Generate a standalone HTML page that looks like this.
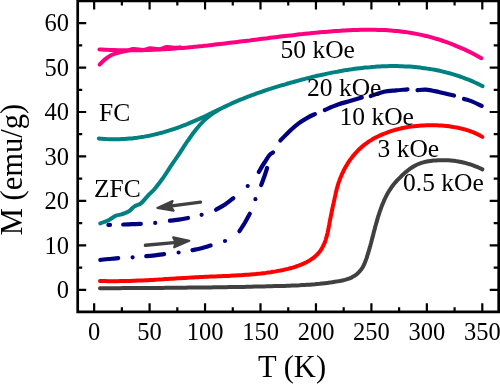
<!DOCTYPE html>
<html><head><meta charset="utf-8"><style>html,body{margin:0;padding:0;background:#fff;overflow:hidden}svg{display:block}</style></head>
<body><svg width="500" height="384" viewBox="0 0 500 384">
<rect width="500" height="384" fill="#fff"/>
<g fill="none" stroke-linecap="round" stroke-linejoin="round">
<path d="M100.3,259.8 C101.8,259.7 106.0,259.3 109.0,259.0 C112.0,258.7 116.7,258.2 118.2,258.1 M132.6,257.3 h0.01 M146.2,256.2 C147.7,256.1 152.0,255.7 155.0,255.3 C158.0,255.0 162.6,254.3 164.1,254.1 M178.6,252.5 h0.01 M192.5,250.1 C194.0,249.8 198.5,249.0 201.5,248.2 C204.5,247.4 209.1,245.9 210.6,245.5 M225.0,241.0 h0.01 M239.4,231.2 C240.3,229.8 243.3,225.4 245.0,222.5 C246.7,219.6 249.0,215.2 249.8,213.8 M255.4,199.2 h0.01 M261.2,185.0 C261.8,183.5 263.5,178.8 264.5,176.0 C265.5,173.2 266.7,169.2 267.1,167.9 M108.4,224.9 C108.7,224.9 109.7,224.9 110.0,224.9 M123.2,224.5 C124.7,224.4 129.1,224.3 132.0,224.2 C134.9,224.1 139.3,223.9 140.8,223.9 M155.2,222.9 h0.01 M169.9,220.7 C171.4,220.5 176.0,220.0 179.0,219.6 C182.0,219.2 186.5,218.3 188.0,218.0 M201.6,214.8 h0.01 M216.0,209.7 C217.5,208.8 222.1,206.4 225.0,204.5 C227.9,202.6 231.9,199.3 233.3,198.3 M247.7,186.0 h0.01 M258.8,172.0 C259.7,170.4 262.7,165.3 264.5,162.5 C266.3,159.7 268.1,156.7 269.5,155.0 C270.9,153.3 272.4,152.9 273.0,152.5 M280.4,140.4 C281.9,138.9 286.5,134.1 289.5,131.2 C292.5,128.4 295.6,125.7 298.6,123.4 C301.7,121.1 305.1,119.1 307.8,117.6 C310.5,116.0 313.7,114.7 314.9,114.1 M324.8,110.0 C327.0,109.1 333.8,106.1 338.0,104.6 C342.2,103.1 346.0,102.2 350.0,101.0 C354.0,99.8 359.8,98.0 361.8,97.4 M370.8,96.0 C373.0,95.3 379.8,92.7 384.0,91.8 C388.2,90.9 392.1,90.8 396.0,90.4 C399.9,90.0 405.6,89.6 407.5,89.4 M417.5,90.2 C418.9,90.1 422.4,89.3 426.0,89.6 C429.6,89.9 434.1,91.0 438.8,92.0 C443.5,93.0 451.5,94.9 454.0,95.5 M464.0,98.9 C465.4,99.4 469.4,100.4 472.4,101.6 C475.3,102.8 480.1,105.2 481.7,105.9" stroke="#000080" stroke-width="4.2"/>
<path d="M100.0,288.3 L102.5,288.3 L105.1,288.3 L107.6,288.2 L110.1,288.2 L112.6,288.2 L115.2,288.2 L117.7,288.2 L120.2,288.2 L122.7,288.1 L125.3,288.1 L127.8,288.1 L130.3,288.1 L132.8,288.1 L135.4,288.1 L137.9,288.0 L140.4,288.0 L142.9,288.0 L145.5,288.0 L148.0,288.0 L150.5,288.0 L153.1,287.9 L155.6,287.9 L158.1,287.9 L160.6,287.9 L163.2,287.9 L165.7,287.8 L168.2,287.8 L170.7,287.8 L173.3,287.8 L175.8,287.8 L178.3,287.7 L180.9,287.7 L183.4,287.7 L185.9,287.7 L188.4,287.6 L191.0,287.6 L193.5,287.6 L196.0,287.6 L198.6,287.5 L201.1,287.5 L203.6,287.5 L206.1,287.4 L208.7,287.4 L211.2,287.4 L213.7,287.3 L216.2,287.3 L218.8,287.3 L221.3,287.2 L223.8,287.2 L226.4,287.2 L228.9,287.1 L231.4,287.1 L233.9,287.0 L236.5,287.0 L239.0,286.9 L241.5,286.9 L244.0,286.9 L246.6,286.8 L249.1,286.7 L251.6,286.7 L254.1,286.6 L256.7,286.6 L259.2,286.5 L261.7,286.5 L264.3,286.4 L266.8,286.3 L269.3,286.3 L271.8,286.2 L274.4,286.1 L276.9,286.1 L279.4,286.0 L281.9,285.9 L284.5,285.9 L287.0,285.8 L289.5,285.7 L292.0,285.6 L294.5,285.5 L297.1,285.4 L299.6,285.3 L302.1,285.1 L304.6,285.0 L307.2,284.8 L309.7,284.7 L312.2,284.5 L314.7,284.3 L317.2,284.0 L319.7,283.8 L322.2,283.5 L324.8,283.2 L327.3,282.9 L329.8,282.6 L332.3,282.2 L334.8,281.8 L337.3,281.4 L339.8,281.0 L342.3,280.5 L344.8,279.9 L347.2,279.2 L349.6,278.3 L351.9,277.3 L354.1,276.1 L356.2,274.7 L358.1,273.0 L359.8,271.2 L361.4,269.3 L362.7,267.2 L363.9,264.9 L364.9,262.6 L365.8,260.3 L366.7,257.9 L367.4,255.4 L368.2,253.0 L368.9,250.6 L369.6,248.1 L370.3,245.7 L371.0,243.3 L371.6,240.8 L372.2,238.4 L372.9,235.9 L373.5,233.5 L374.1,231.1 L374.8,228.6 L375.4,226.2 L376.1,223.8 L376.8,221.4 L377.5,218.9 L378.2,216.5 L379.0,214.1 L379.8,211.7 L380.6,209.3 L381.5,206.9 L382.4,204.5 L383.4,202.2 L384.4,199.8 L385.5,197.5 L386.6,195.3 L387.8,193.1 L389.1,190.9 L390.5,188.8 L391.9,186.7 L393.4,184.7 L395.0,182.8 L396.7,180.9 L398.4,179.1 L400.2,177.3 L402.0,175.5 L403.9,173.8 L405.8,172.1 L407.8,170.5 L409.8,168.9 L411.9,167.5 L414.0,166.2 L416.2,165.0 L418.5,164.0 L420.8,163.1 L423.2,162.4 L425.7,161.8 L428.1,161.3 L430.7,160.9 L433.2,160.6 L435.7,160.4 L438.3,160.2 L440.8,160.2 L443.4,160.2 L445.9,160.2 L448.4,160.3 L451.0,160.5 L453.5,160.8 L456.0,161.1 L458.5,161.5 L461.0,162.0 L463.4,162.5 L465.9,163.1 L468.3,163.8 L470.7,164.5 L473.1,165.4 L475.4,166.3 L477.8,167.2 L480.1,168.3 L482.4,169.4" stroke="#404040" stroke-width="4"/>
<path d="M100.0,281.0 L102.5,281.1 L105.1,281.1 L107.6,281.2 L110.1,281.2 L112.6,281.2 L115.1,281.2 L117.7,281.2 L120.2,281.1 L122.7,281.1 L125.2,281.1 L127.7,281.0 L130.2,280.9 L132.7,280.8 L135.2,280.7 L137.7,280.6 L140.2,280.5 L142.8,280.4 L145.3,280.3 L147.8,280.2 L150.3,280.0 L152.8,279.9 L155.3,279.7 L157.8,279.6 L160.3,279.4 L162.8,279.3 L165.3,279.1 L167.8,279.0 L170.3,278.8 L172.8,278.7 L175.3,278.5 L177.8,278.3 L180.3,278.2 L182.8,278.0 L185.3,277.9 L187.9,277.7 L190.4,277.6 L192.9,277.4 L195.4,277.3 L197.9,277.2 L200.4,277.0 L202.9,276.9 L205.4,276.8 L208.0,276.7 L210.5,276.6 L213.0,276.5 L215.5,276.4 L218.0,276.3 L220.6,276.2 L223.1,276.1 L225.6,276.0 L228.1,275.9 L230.6,275.7 L233.1,275.6 L235.7,275.5 L238.2,275.3 L240.7,275.2 L243.2,275.0 L245.7,274.8 L248.2,274.7 L250.7,274.4 L253.2,274.2 L255.7,274.0 L258.2,273.7 L260.7,273.5 L263.2,273.2 L265.7,272.9 L268.2,272.5 L270.6,272.2 L273.1,271.8 L275.6,271.4 L278.1,270.9 L280.5,270.5 L283.0,270.0 L285.4,269.4 L287.9,268.9 L290.3,268.2 L292.7,267.6 L295.1,266.8 L297.5,266.0 L299.9,265.1 L302.3,264.2 L304.6,263.1 L306.9,262.0 L309.1,260.8 L311.2,259.4 L313.3,258.0 L315.2,256.4 L317.0,254.7 L318.7,252.8 L320.2,250.9 L321.6,248.8 L322.8,246.7 L323.9,244.4 L324.9,242.1 L325.7,239.8 L326.4,237.4 L327.1,234.9 L327.7,232.5 L328.2,230.0 L328.7,227.4 L329.2,224.9 L329.6,222.4 L330.1,219.9 L330.6,217.4 L331.1,214.9 L331.6,212.5 L332.1,210.0 L332.6,207.6 L333.1,205.2 L333.7,202.7 L334.2,200.3 L334.7,197.9 L335.3,195.4 L335.8,193.0 L336.4,190.6 L337.0,188.1 L337.7,185.7 L338.4,183.3 L339.3,180.9 L340.1,178.6 L341.1,176.2 L342.1,173.9 L343.2,171.6 L344.3,169.3 L345.5,167.1 L346.8,164.9 L348.1,162.8 L349.5,160.7 L351.0,158.6 L352.5,156.6 L354.1,154.7 L355.8,152.8 L357.5,151.0 L359.3,149.2 L361.1,147.5 L363.0,145.9 L364.9,144.3 L367.0,142.9 L369.0,141.4 L371.2,140.1 L373.3,138.8 L375.5,137.6 L377.8,136.5 L380.1,135.4 L382.4,134.4 L384.7,133.5 L387.1,132.6 L389.5,131.7 L391.9,130.9 L394.3,130.2 L396.7,129.5 L399.2,128.9 L401.6,128.3 L404.1,127.8 L406.5,127.3 L409.0,126.9 L411.5,126.5 L414.0,126.2 L416.4,125.9 L418.9,125.7 L421.4,125.5 L423.9,125.4 L426.5,125.3 L429.0,125.2 L431.5,125.2 L434.0,125.2 L436.5,125.3 L439.0,125.4 L441.5,125.6 L444.1,125.8 L446.6,126.0 L449.1,126.3 L451.6,126.7 L454.1,127.1 L456.5,127.5 L459.0,128.0 L461.5,128.6 L463.9,129.2 L466.3,129.9 L468.7,130.7 L471.1,131.5 L473.4,132.4 L475.7,133.4 L478.0,134.5 L480.2,135.6 L482.4,136.9" stroke="#ff0000" stroke-width="4"/>
<path d="M100.2,223.4 C100.8,223.2 102.5,222.6 104.0,222.0 C105.5,221.4 107.0,221.0 109.0,219.9 C111.0,218.8 113.9,216.6 116.0,215.7 C118.1,214.8 119.5,215.0 121.6,214.3 C123.7,213.6 126.5,212.8 128.6,211.5 C130.7,210.2 132.1,208.0 134.2,206.6 C136.3,205.2 138.9,205.0 141.2,203.1 C143.5,201.2 146.0,197.7 148.2,195.4 C150.4,193.1 151.8,192.3 154.2,189.5 C156.6,186.7 159.7,182.6 162.5,178.8 C165.3,174.9 168.0,170.4 170.8,166.2 C173.6,162.1 176.4,157.9 179.2,153.8 C182.0,149.6 184.7,145.2 187.5,141.2 C190.3,137.3 193.0,133.3 195.8,129.8 C198.6,126.3 201.4,123.1 204.2,120.4 C207.0,117.7 210.2,115.3 212.5,113.6 C214.8,111.9 217.1,110.8 218.0,110.3" stroke="#008080" stroke-width="4"/>
<path d="M98.8,138.5 L101.4,138.7 L104.0,138.9 L106.6,139.1 L109.1,139.2 L111.7,139.2 L114.3,139.3 L116.8,139.3 L119.3,139.2 L121.9,139.1 L124.4,139.0 L126.9,138.8 L129.4,138.6 L132.0,138.4 L134.5,138.1 L137.0,137.8 L139.4,137.4 L141.9,137.0 L144.4,136.6 L146.9,136.1 L149.3,135.7 L151.8,135.1 L154.2,134.6 L156.7,134.0 L159.1,133.4 L161.5,132.8 L163.9,132.1 L166.3,131.4 L168.7,130.7 L171.1,129.9 L173.5,129.1 L175.9,128.3 L178.3,127.5 L180.6,126.6 L183.0,125.7 L185.3,124.8 L187.7,123.9 L190.0,122.9 L192.3,121.9 L194.7,120.9 L197.0,119.9 L199.3,118.9 L201.6,117.8 L203.9,116.8 L206.1,115.7 L208.4,114.6 L210.7,113.5 L213.0,112.4 L215.3,111.3 L217.5,110.2 L219.8,109.1 L222.1,108.0 L224.4,106.9 L226.6,105.9 L228.9,104.8 L231.2,103.7 L233.5,102.7 L235.8,101.7 L238.1,100.7 L240.4,99.7 L242.7,98.8 L245.0,97.9 L247.4,96.9 L249.7,96.0 L252.0,95.2 L254.4,94.3 L256.7,93.4 L259.1,92.6 L261.4,91.8 L263.8,91.0 L266.2,90.2 L268.5,89.4 L270.9,88.7 L273.3,87.9 L275.7,87.1 L278.1,86.4 L280.5,85.7 L282.9,85.0 L285.3,84.3 L287.8,83.5 L290.2,82.8 L292.6,82.2 L295.1,81.5 L297.5,80.8 L300.0,80.1 L302.4,79.5 L304.9,78.9 L307.3,78.2 L309.8,77.6 L312.3,77.0 L314.7,76.4 L317.2,75.8 L319.7,75.3 L322.2,74.7 L324.7,74.2 L327.2,73.6 L329.7,73.1 L332.2,72.6 L334.7,72.1 L337.2,71.7 L339.7,71.2 L342.2,70.8 L344.7,70.3 L347.2,69.9 L349.7,69.6 L352.2,69.2 L354.7,68.8 L357.2,68.5 L359.8,68.2 L362.3,67.9 L364.8,67.6 L367.3,67.4 L369.8,67.2 L372.3,66.9 L374.8,66.8 L377.4,66.6 L379.9,66.5 L382.4,66.3 L384.9,66.2 L387.4,66.2 L389.9,66.1 L392.4,66.1 L394.9,66.1 L397.4,66.1 L399.9,66.2 L402.4,66.3 L404.9,66.4 L407.4,66.5 L409.9,66.6 L412.4,66.8 L414.9,67.0 L417.4,67.3 L419.9,67.6 L422.3,67.9 L424.8,68.2 L427.3,68.6 L429.7,69.0 L432.2,69.4 L434.7,69.8 L437.1,70.3 L439.6,70.8 L442.0,71.4 L444.4,72.0 L446.9,72.6 L449.3,73.2 L451.7,73.9 L454.1,74.6 L456.5,75.4 L458.9,76.2 L461.3,77.0 L463.7,77.9 L466.1,78.8 L468.5,79.7 L470.8,80.7 L473.2,81.7 L475.6,82.8 L477.9,83.8 L480.2,85.0 L482.6,86.1" stroke="#008080" stroke-width="4"/>
<path d="M99.6,64.6 C100.4,63.8 102.7,61.2 104.6,59.6 C106.5,58.0 108.6,56.4 111.0,55.2 C113.4,54.0 116.3,53.2 119.0,52.5 C121.7,51.8 124.6,51.5 127.0,50.9 C129.4,50.3 130.7,49.2 133.4,49.0 C136.1,48.8 140.2,50.0 143.0,49.9 C145.8,49.8 147.5,48.4 150.2,48.3 C152.9,48.2 156.2,49.4 159.0,49.2 C161.8,49.0 164.3,47.3 167.0,47.1 C169.7,46.9 172.8,47.8 175.0,47.8 C177.2,47.8 179.2,47.4 180.0,47.3" stroke="#ff0080" stroke-width="4"/>
<path d="M99.4,49.4 L101.9,49.5 L104.4,49.7 L106.9,49.8 L109.5,49.9 L112.0,50.0 L114.5,50.1 L117.0,50.2 L119.6,50.2 L122.1,50.3 L124.6,50.3 L127.1,50.3 L129.7,50.3 L132.2,50.3 L134.7,50.3 L137.2,50.3 L139.7,50.2 L142.2,50.2 L144.8,50.1 L147.3,50.0 L149.8,49.9 L152.3,49.8 L154.8,49.7 L157.3,49.6 L159.8,49.5 L162.3,49.3 L164.9,49.2 L167.4,49.0 L169.9,48.9 L172.4,48.7 L174.9,48.5 L177.4,48.3 L179.9,48.1 L182.4,47.9 L184.9,47.7 L187.4,47.5 L189.9,47.2 L192.4,47.0 L194.9,46.7 L197.4,46.5 L199.9,46.2 L202.4,46.0 L204.9,45.7 L207.4,45.5 L209.9,45.2 L212.5,44.9 L215.0,44.6 L217.5,44.3 L220.0,44.0 L222.5,43.7 L225.0,43.4 L227.5,43.1 L230.0,42.8 L232.5,42.5 L235.0,42.2 L237.5,41.9 L240.0,41.6 L242.5,41.3 L245.0,41.0 L247.5,40.7 L250.0,40.4 L252.5,40.0 L255.0,39.7 L257.5,39.4 L260.0,39.1 L262.5,38.8 L265.0,38.5 L267.5,38.2 L270.0,37.8 L272.5,37.5 L275.0,37.2 L277.5,36.9 L280.0,36.6 L282.5,36.3 L285.0,36.0 L287.5,35.7 L290.0,35.4 L292.5,35.2 L295.0,34.9 L297.5,34.6 L300.0,34.3 L302.5,34.1 L305.0,33.8 L307.5,33.5 L310.0,33.3 L312.5,33.0 L315.0,32.8 L317.5,32.6 L320.0,32.3 L322.6,32.1 L325.1,31.9 L327.6,31.7 L330.1,31.5 L332.6,31.3 L335.1,31.1 L337.6,30.9 L340.1,30.8 L342.7,30.6 L345.2,30.5 L347.7,30.3 L350.2,30.2 L352.7,30.1 L355.2,30.0 L357.7,29.9 L360.3,29.8 L362.8,29.8 L365.3,29.8 L367.8,29.7 L370.3,29.7 L372.8,29.8 L375.3,29.8 L377.8,29.9 L380.3,29.9 L382.8,30.0 L385.3,30.1 L387.8,30.3 L390.3,30.5 L392.8,30.7 L395.3,30.9 L397.8,31.1 L400.3,31.4 L402.7,31.7 L405.2,32.0 L407.7,32.4 L410.1,32.8 L412.6,33.2 L415.1,33.6 L417.5,34.1 L420.0,34.6 L422.4,35.1 L424.9,35.7 L427.3,36.3 L429.7,36.9 L432.2,37.6 L434.6,38.3 L437.0,39.0 L439.4,39.7 L441.8,40.5 L444.2,41.3 L446.6,42.1 L448.9,43.0 L451.3,43.9 L453.7,44.8 L456.0,45.8 L458.4,46.8 L460.7,47.8 L463.1,48.8 L465.4,49.9 L467.7,51.0 L470.0,52.1 L472.3,53.3 L474.6,54.5 L476.9,55.7 L479.1,56.9 L481.4,58.2" stroke="#ff0080" stroke-width="4"/>
</g>
<g stroke="#404040" stroke-linecap="round" stroke-linejoin="round" fill="#404040">
<path d="M200.5,202.1 L170,206.1" stroke-width="3.4"/>
<path d="M157.4,207.9 L172.6,201.1 L170.4,206.1 L173.6,210.6 Z" stroke-width="2.2"/>
<path d="M145.4,245.3 L177,242.4" stroke-width="3.4"/>
<path d="M189.3,240.8 L173.2,237.3 L175.6,242.5 L174.2,247.3 Z" stroke-width="2.2"/>
</g>
<g stroke="#000" stroke-width="2.2" fill="none" stroke-linecap="butt">
<path d="M94.15,311.8 V303.30 M94.15,1.1 V9.60 M121.88,311.8 V307.30 M121.88,1.1 V5.60 M149.60,311.8 V303.30 M149.60,1.1 V9.60 M177.32,311.8 V307.30 M177.32,1.1 V5.60 M205.05,311.8 V303.30 M205.05,1.1 V9.60 M232.78,311.8 V307.30 M232.78,1.1 V5.60 M260.50,311.8 V303.30 M260.50,1.1 V9.60 M288.23,311.8 V307.30 M288.23,1.1 V5.60 M315.95,311.8 V303.30 M315.95,1.1 V9.60 M343.68,311.8 V307.30 M343.68,1.1 V5.60 M371.40,311.8 V303.30 M371.40,1.1 V9.60 M399.12,311.8 V307.30 M399.12,1.1 V5.60 M426.85,311.8 V303.30 M426.85,1.1 V9.60 M454.58,311.8 V307.30 M454.58,1.1 V5.60 M482.30,311.8 V303.30 M482.30,1.1 V9.60 M77.7,289.80 H86.20 M498.7,289.80 H489.70 M77.7,267.57 H82.20 M498.7,267.57 H493.70 M77.7,245.35 H86.20 M498.7,245.35 H489.70 M77.7,223.12 H82.20 M498.7,223.12 H493.70 M77.7,200.90 H86.20 M498.7,200.90 H489.70 M77.7,178.68 H82.20 M498.7,178.68 H493.70 M77.7,156.45 H86.20 M498.7,156.45 H489.70 M77.7,134.22 H82.20 M498.7,134.22 H493.70 M77.7,112.00 H86.20 M498.7,112.00 H489.70 M77.7,89.78 H82.20 M498.7,89.78 H493.70 M77.7,67.55 H86.20 M498.7,67.55 H489.70 M77.7,45.32 H82.20 M498.7,45.32 H493.70 M77.7,23.10 H86.20 M498.7,23.10 H489.70 M77.7,0.88 H82.20 M498.7,0.88 H493.70"/>
<path d="M77.7,0 V311.8 H498.7 V0" stroke-width="2.7"/>
<path d="M77.7,1.1 H498.7" stroke-width="2.2"/>
</g>
<g font-family="Liberation Serif, serif" font-size="24.5" fill="#000">
<text x="94.2" y="340" text-anchor="middle">0</text><text x="149.6" y="340" text-anchor="middle">50</text><text x="205.1" y="340" text-anchor="middle">100</text><text x="260.5" y="340" text-anchor="middle">150</text><text x="316.0" y="340" text-anchor="middle">200</text><text x="371.4" y="340" text-anchor="middle">250</text><text x="426.9" y="340" text-anchor="middle">300</text><text x="482.3" y="340" text-anchor="middle">350</text>
<text x="69" y="298.0" text-anchor="end">0</text><text x="69" y="253.6" text-anchor="end">10</text><text x="69" y="209.1" text-anchor="end">20</text><text x="69" y="164.6" text-anchor="end">30</text><text x="69" y="120.2" text-anchor="end">40</text><text x="69" y="75.8" text-anchor="end">50</text><text x="69" y="31.3" text-anchor="end">60</text>
<g font-size="25.5">
<text x="280.5" y="58.2">50 kOe</text>
<text x="307" y="96">20 kOe</text>
<text x="339.5" y="125.2">10 kOe</text>
<text x="377.5" y="156.9">3 kOe</text>
<text x="403" y="191.0">0.5 kOe</text>
<text x="99" y="121.4">FC</text>
<text x="94" y="196.6">ZFC</text>
</g>
<text x="258" y="377.4" font-size="30.5">T (K)</text>
<text transform="translate(22.2,235.2) rotate(-90)" font-size="30.5">M (emu/g)</text>
</g>
</svg></body></html>
